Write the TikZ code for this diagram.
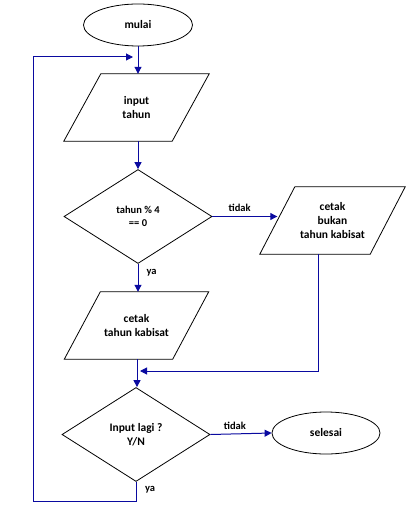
\documentclass[tikz,border=0pt]{standalone}
\usepackage{fontspec}
\setmainfont{Carlito}
\usetikzlibrary{shapes.geometric,arrows.meta,calc}
\definecolor{conn}{RGB}{10,10,160}
\tikzset{
  base/.style={font=\bfseries\fontsize{11.5}{14}\selectfont, align=center, inner sep=0pt},
  term/.style={base, ellipse, draw=black, line width=0.8pt, minimum width=109pt, minimum height=42pt},
  dec/.style={base, diamond, draw=black, line width=0.8pt, minimum width=148pt, minimum height=94pt, aspect=1.575},
  parabox/.style={base, rectangle, minimum width=108pt, minimum height=67pt},
  paraedge/.style={draw=black, line width=0.8pt},
  conline/.style={draw=conn, line width=1pt},
  arr/.style={conline, -{Triangle[length=7pt,width=7pt]}},
  lbl/.style={font=\bfseries\fontsize{10.5}{12}\selectfont, text=black, inner sep=1pt}
}
\newcommand{\drawpara}[2]{%
  \draw[paraedge] ([xshift=-#2]#1.south west) -- ([xshift=-#2]#1.south east) -- ([xshift=#2]#1.north east) -- ([xshift=#2]#1.north west) -- cycle;}
\begin{document}
\begin{tikzpicture}[x=1pt,y=-1pt]
\useasboundingbox (0,0) rectangle (412,510);
\node[term] (start) at (138,25) {mulai};
\node[parabox] (in) at (136.5,107.5) {input\\tahun};
\drawpara{in}{18.5pt}
\node[dec, font=\bfseries\fontsize{10.5}{13}\selectfont] (d1) at (138,216.5) {tahun \% 4\\== 0};
\node[parabox, minimum width=110pt] (p2) at (332.5,220.5) {cetak\\bukan\\tahun kabisat};
\drawpara{p2}{17.5pt}
\node[parabox] (p1) at (136.5,325.5) {cetak\\tahun kabisat};
\drawpara{p1}{18pt}
\node[dec] (d2) at (136,434.5) {Input lagi ?\\Y/N};
\node[term, minimum width=108pt] (end) at (326,433) {selesai};

\coordinate (j1) at (138,57);
\coordinate (j2) at (137,371);
\coordinate (bl) at (33,501);
\coordinate (tl) at (33,57);

\draw[arr] (start.south) -- (start.south |- in.north);
\draw[arr] (in.south -| 138,0) -- (d1.north);
\draw[arr] (d1.east) -- (d1.east -| p2.west) node[lbl, pos=0.42, above=3pt] {tidak};
\draw[arr] (d1.south) -- (d1.south |- p1.north) node[lbl, pos=0.3, right=7pt] {ya};
\draw[conline] (p1.south -| j2) -- (j2);
\draw[arr] (p2.south -| 318,0) -- (318,371) -- ([xshift=3pt]j2);
\draw[arr] (j2) -- (d2.north -| j2);
\draw[arr] (d2.east) -- (end.west) node[lbl, pos=0.4, above=3pt] {tidak};
\draw[arr] (d2.south) -- (d2.south |- bl) -- (bl) -- (tl) -- ([xshift=-5pt]j1);
\node[lbl] (ya2) at (150,490) {ya};
\end{tikzpicture}
\end{document}
